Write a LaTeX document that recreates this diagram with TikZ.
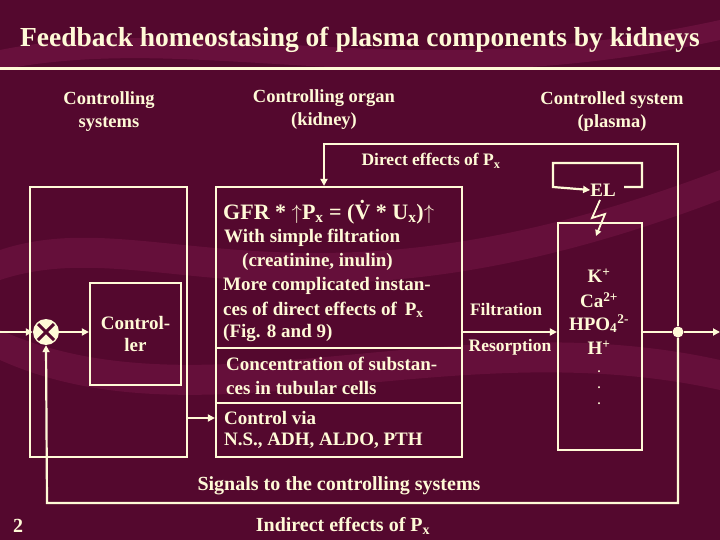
\documentclass[tikz,border=0pt]{standalone}
\usepackage{fontspec}
\setmainfont{Liberation Serif}
\usetikzlibrary{arrows.meta}
\definecolor{bgc}{RGB}{84,8,46}
\definecolor{wave}{RGB}{118,22,70}
\definecolor{ln}{RGB}{255,250,215}
\tikzset{
  box/.style={draw=ln,line width=2.2pt},
  wire/.style={draw=ln,line width=2.2pt},
  arr/.style={wire,-{Triangle[length=7pt,width=7pt]}},
  txt/.style={text=ln,font=\bfseries\fontsize{19}{22}\selectfont,inner sep=0pt},
  lbl/.style={txt,font=\bfseries\fontsize{18.5}{23}\selectfont,align=center},
  sml/.style={txt,font=\bfseries\fontsize{17.5}{20}\selectfont},
  dotx/.style={txt,font=\bfseries\fontsize{12}{12}\selectfont},
}
\begin{document}
\begin{tikzpicture}[x=1pt,y=-1pt]
\useasboundingbox (0,0) rectangle (720,540);
\fill[bgc] (0,0) rectangle (720,540);
% background waves
\fill[wave,opacity=0.6] (0,70) .. controls (200,30) and (400,110) .. (720,40) -- (720,20) .. controls (400,90) and (200,10) .. (0,50) -- cycle;
\fill[wave,opacity=0.5] (0,250) .. controls (150,200) and (300,330) .. (720,170) -- (720,200) .. controls (300,360) and (150,230) .. (0,280) -- cycle;
\fill[wave,opacity=0.5] (0,330) .. controls (200,420) and (450,300) .. (720,360) -- (720,390) .. controls (450,330) and (200,450) .. (0,360) -- cycle;
% title
\node[txt,font=\bfseries\fontsize{27.5}{30}\selectfont] (title) at (360,40) {Feedback homeostasing of plasma components by kidneys};
\fill[ln] (0,67) rectangle (720,70);
% headers
\node[lbl] (h1) at (109,112) {Controlling\\systems};
\node[lbl] (h2) at (324,110) {Controlling organ\\(kidney)};
\node[lbl] (h3) at (612,112) {Controlled system\\(plasma)};
% boxes
\node[box,minimum width=157pt,minimum height=270pt,inner sep=0pt] (outer) at (108.5,322) {};
\node[box,minimum width=91pt,minimum height=102pt,inner sep=0pt] (ctrl) at (135.5,334) {};
\node[txt,align=center] at (ctrl) {Control-\\ler};
\node[box,minimum width=246pt,minimum height=270pt,inner sep=0pt] (mid) at (339,322) {};
\draw[wire] (216,348) -- (462,348);
\draw[wire] (216,403) -- (462,403);
\node[box,minimum width=84pt,minimum height=227pt,inner sep=0pt] (rb) at (600,336.5) {};
% mid texts
\node[txt,anchor=west,font=\bfseries\fontsize{22}{24}\selectfont] (gfr) at (223,212) {GFR * $\uparrow$P\textsubscript{x} = (\.{V} * U\textsubscript{x})$\uparrow$};
\node[txt,anchor=west] at (224,238) {With simple filtration};
\node[txt,anchor=west] at (242,262) {(creatinine, inulin)};
\node[txt,anchor=west] at (223,286) {More complicated instan-};
\node[txt,anchor=west] at (223,310) {ces of direct effects of\, P\textsubscript{x}};
\node[txt,anchor=west] at (223,333) {(Fig. 8 and 9)};
\node[txt,anchor=west] at (226,364) {Concentration of substan-};
\node[txt,anchor=west] at (226,388) {ces in tubular cells};
\node[txt,anchor=west] at (224,418) {Control via};
\node[txt,anchor=west] at (224,441) {N.S., ADH, ALDO, PTH};
% right box texts
\node[txt] at (599,276) {K\textsuperscript{+}};
\node[txt] at (599,300) {Ca\textsuperscript{2+}};
\node[txt] at (599,324) {HPO\textsubscript{4}\textsuperscript{2-}};
\node[txt] at (599,348) {H\textsuperscript{+}};
\node[dotx] at (599,372) {.};
\node[dotx] at (599,388) {.};
\node[dotx] at (599,404) {.};
% comparator
\node[circle,fill=ln,minimum size=26pt,inner sep=0pt] (cmp) at (46,332) {};
\draw[bgc,line width=3pt] (38,324) -- (54,340) (54,324) -- (38,340);
\coordinate (in) at (0,332);
\draw[arr] (in) -- (cmp.west);
\draw[arr] (cmp.east) -- (ctrl.west |- cmp);
\draw[arr] (outer.east |- 0,418) -- (mid.west |- 0,418);
% filtration
\draw[arr] (mid.east |- 0,332) -- (rb.west |- 0,332);
\node[sml] at (506,310) {Filtration};
\node[sml] at (510,347) {Resorption};
% output & feedback
\node[circle,fill=ln,minimum size=11pt,inner sep=0pt] (dot) at (678,332) {};
\coordinate (out) at (720,332);
\draw[wire] (rb.east |- dot) -- (dot);
\draw[arr] (dot) -- (out);
\draw[arr] (dot) -- (678,503) -- (47,503) -- (cmp.south);
\draw[arr] (dot) -- (678,144) -- (324,144) -- (mid.north -| 324,0);
\node[sml] at (431,161) {Direct effects of P\textsubscript{x}};
\node[txt,font=\bfseries\fontsize{20}{22}\selectfont] at (339,486) {Signals to the controlling systems};
\node[txt,font=\bfseries\fontsize{20}{22}\selectfont] at (343,526) {Indirect effects of P\textsubscript{x}};
\node[txt,font=\bfseries\fontsize{20}{22}\selectfont] at (18,526) {2};
% EL loop
\node[txt] (el) at (603,190) {EL};
\draw[arr] (624,187) -- (642,187) -- (642,163) -- (553,163) -- (553,187) -- (el.west);
\draw[wire,line width=1.8pt,-{Triangle[length=6pt,width=6pt]}] (600,200) -- (592,218) -- (605,214) -- (596,236);
\end{tikzpicture}
\end{document}
